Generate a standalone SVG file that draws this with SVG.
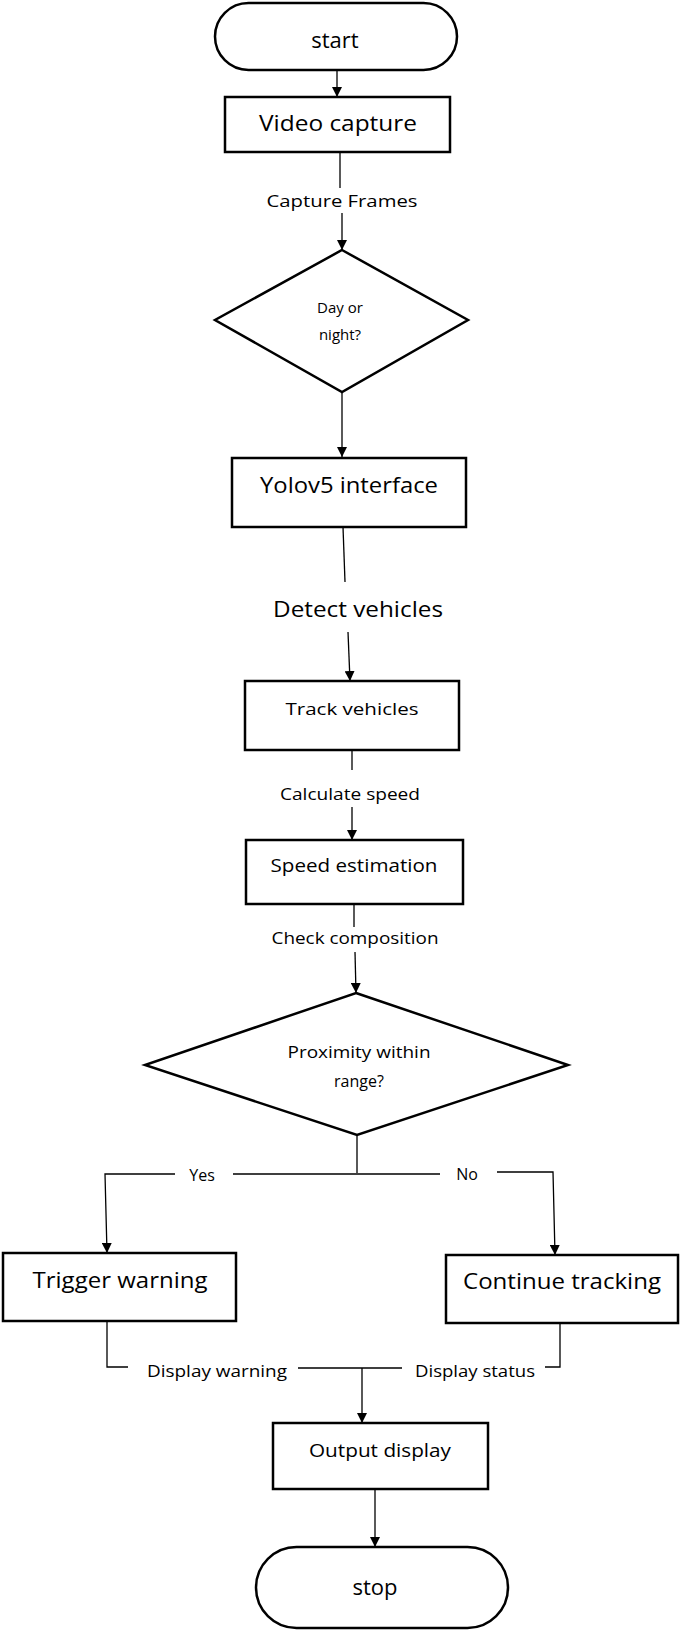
<svg xmlns="http://www.w3.org/2000/svg" width="685" height="1633" viewBox="0 0 685 1633">
<style>
.s{fill:#fff;stroke:#000;stroke-width:2.5}
.c{fill:none;stroke:#000;stroke-width:1.3}
text{font-family:"Open Sans","Liberation Sans",sans-serif;fill:#000;text-anchor:middle}
</style>
<defs><marker id="a" viewBox="0 0 10 10" refX="10" refY="5" markerWidth="10" markerHeight="10" markerUnits="userSpaceOnUse" orient="auto"><path d="M0,0L10,5L0,10z"/></marker></defs>
<rect width="685" height="1633" fill="#fff"/>
<g id="connectors">
<path class="c" d="M337,70V97" marker-end="url(#a)"/>
<path class="c" d="M340,152V188"/>
<path class="c" d="M342,213V250" marker-end="url(#a)"/>
<path class="c" d="M342,392V457" marker-end="url(#a)"/>
<path class="c" d="M343,527L345,582"/>
<path class="c" d="M348,632L350,681" marker-end="url(#a)"/>
<path class="c" d="M352,750V770"/>
<path class="c" d="M352,807V840" marker-end="url(#a)"/>
<path class="c" d="M354,904V927"/>
<path class="c" d="M355,952L356,993" marker-end="url(#a)"/>
<path class="c" d="M357,1135V1173M233,1174H440"/>
<path class="c" d="M175,1174H105L107,1253" marker-end="url(#a)"/>
<path class="c" d="M497,1172H553L555,1255" marker-end="url(#a)"/>
<path class="c" d="M107,1321V1367H128"/>
<path class="c" d="M298,1368H402M362,1368V1423" marker-end="url(#a)"/>
<path class="c" d="M545,1367H560V1323"/>
<path class="c" d="M375,1489V1547" marker-end="url(#a)"/>
<text x="342" y="207" font-size="17" textLength="151" lengthAdjust="spacingAndGlyphs">Capture Frames</text>
<text x="358" y="617" font-size="21" textLength="170" lengthAdjust="spacingAndGlyphs">Detect vehicles</text>
<text x="350" y="800" font-size="16" textLength="140" lengthAdjust="spacingAndGlyphs">Calculate speed</text>
<text x="355" y="944" font-size="16" textLength="167" lengthAdjust="spacingAndGlyphs">Check composition</text>
<text x="202" y="1181" font-size="16">Yes</text>
<text x="467" y="1180" font-size="16">No</text>
<text x="217" y="1377" font-size="16" textLength="140" lengthAdjust="spacingAndGlyphs">Display warning</text>
<text x="475" y="1377" font-size="16" textLength="120" lengthAdjust="spacingAndGlyphs">Display status</text>
</g>
<g id="start"><rect class="s" x="215" y="3" width="242" height="67" rx="33.5"/><text x="335" y="48" font-size="22">start</text></g>
<g id="video"><rect class="s" x="225" y="97" width="225" height="55"/><text x="338" y="131" font-size="22" textLength="158" lengthAdjust="spacingAndGlyphs">Video capture</text></g>
<g id="daynight"><path class="s" d="M342,250L468,320L342,392L215,320Z"/><text x="340" y="313" font-size="15">Day or</text><text x="340" y="340" font-size="15">night?</text></g>
<g id="yolo"><rect class="s" x="232" y="458" width="234" height="69"/><text x="349" y="493" font-size="21" textLength="178" lengthAdjust="spacingAndGlyphs">Yolov5 interface</text></g>
<g id="track"><rect class="s" x="245" y="681" width="214" height="69"/><text x="352" y="715" font-size="17" textLength="133" lengthAdjust="spacingAndGlyphs">Track vehicles</text></g>
<g id="speed"><rect class="s" x="246" y="840" width="217" height="64"/><text x="354" y="872" font-size="19" textLength="167" lengthAdjust="spacingAndGlyphs">Speed estimation</text></g>
<g id="proximity"><path class="s" d="M356,993L568,1065L357,1135L145,1065Z"/><text x="359" y="1058" font-size="16" textLength="143" lengthAdjust="spacingAndGlyphs">Proximity within</text><text x="359" y="1087" font-size="16">range?</text></g>
<g id="trigger"><rect class="s" x="3" y="1253" width="233" height="68"/><text x="120" y="1288" font-size="22" textLength="175" lengthAdjust="spacingAndGlyphs">Trigger warning</text></g>
<g id="continue"><rect class="s" x="446" y="1255" width="232" height="68"/><text x="562" y="1289" font-size="22" textLength="198" lengthAdjust="spacingAndGlyphs">Continue tracking</text></g>
<g id="output"><rect class="s" x="273" y="1423" width="215" height="66"/><text x="380" y="1457" font-size="18" textLength="142" lengthAdjust="spacingAndGlyphs">Output display</text></g>
<g id="stop"><rect class="s" x="256" y="1547" width="252" height="81" rx="40.5"/><text x="375" y="1595" font-size="22">stop</text></g>
</svg>
